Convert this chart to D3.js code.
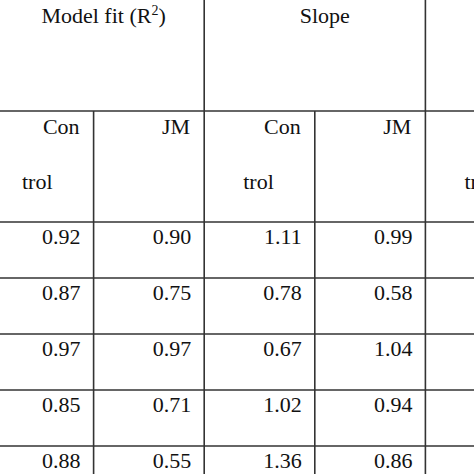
<!DOCTYPE html><html><head><meta charset="utf-8"><script src="https://cdn.jsdelivr.net/npm/d3@7"></script>
<style>body{margin:0;background:#fff}</style></head><body><script>
const groups=["Model fit (R²)","Slope"];
const subHeads=["Con","JM","Con","JM"];
const subHeads2=["trol","","trol","","trol"];
const control_R2=[0.92,0.87,0.97,0.85,0.88];
const jm_R2=[0.90,0.75,0.97,0.71,0.55];
const control_slope=[1.11,0.78,0.67,1.02,1.36];
const jm_slope=[0.99,0.58,1.04,0.94,0.86];
const cols=[control_R2,jm_R2,control_slope,jm_slope];
const W=474,H=474;
const svg=d3.select("body").append("svg").attr("width",W).attr("height",H);
const xc=i=>-17+i*110.6;
const y=d3.scaleLinear().domain([0,1]).range([222,278]);
const font="'Liberation Serif', 'Times New Roman', serif";
const g=svg.append("g").attr("stroke","#333").attr("stroke-width",1.6);
[111,222].concat(d3.range(1,6).map(i=>y(i))).forEach(v=>g.append("line").attr("x1",0).attr("x2",W).attr("y1",v).attr("y2",v));
[1,3].forEach(i=>g.append("line").attr("x1",xc(i)).attr("x2",xc(i)).attr("y1",111).attr("y2",H));
[2,4].forEach(i=>g.append("line").attr("x1",xc(i)).attr("x2",xc(i)).attr("y1",0).attr("y2",H));
const t=svg.append("g").style("font-family",font).attr("font-size",22).attr("fill","#111");
groups.forEach((s,i)=>{
  const tx=t.append("text").attr("x",(xc(2*i)+xc(2*i+2))/2+10).attr("y",23).attr("text-anchor","middle");
  if(i===0){tx.text("Model fit (R");tx.append("tspan").attr("font-size",14).attr("dy",-8).text("2");tx.append("tspan").attr("dy",8).text(")");}
  else tx.text(s);
});
subHeads.forEach((s,i)=>{
  t.append("text").attr("x",xc(i+1)-14).attr("y",134).attr("text-anchor","end").text(s);
});
subHeads2.forEach((s,i)=>{ if(s) t.append("text").attr("x",xc(i)+39).attr("y",189).text(s); });
cols.forEach((c,j)=>c.forEach((v,i)=>{
  t.append("text").attr("x",xc(j+1)-13).attr("y",y(i)+22).attr("text-anchor","end").text(d3.format(".2f")(v));
}));
</script></body></html>
